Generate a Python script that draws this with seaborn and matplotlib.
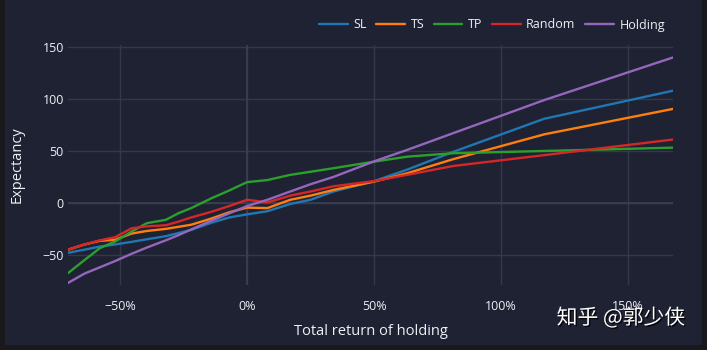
import matplotlib
matplotlib.use("Agg")
import matplotlib.pyplot as plt
import matplotlib.patheffects as pe
from matplotlib.patches import Rectangle
from matplotlib.ticker import FuncFormatter
import numpy as np
import pandas as pd
import seaborn as sns

# Total return of holding (%) at each sample point
total_return = [-70.5, -64, -58, -52, -45.5, -39.5, -32, -27, -22, -14, -7, 0,
                8, 17, 25, 34, 50, 63, 81, 117, 167.7]

sl = [-48, -45, -42, -40, -37.5, -35, -32, -29, -26, -19, -14, -11,
      -8, -1, 3, 11, 21, 32, 49, 81, 108]
ts = [-45, -40, -36.5, -35.5, -29.5, -27, -25, -23, -21, -15, -9, -4.5,
      -5, 3, 7, 12.5, 20.5, 28.5, 42, 66, 90.5]
tp = [-67.6, -55, -43.6, -37.2, -27.6, -19.5, -16.3, -9.9, -5, 4.5, 12, 20,
      22, 27, 30, 33.4, 39.7, 44.5, 47.8, 50, 53.2]
random_ = [-45, -40, -36, -33, -24.5, -22.5, -21.5, -18, -14, -8.5, -3, 3,
           0.5, 7, 11, 16, 21, 27, 35.5, 46, 61]
holding = [-77, -68, -62, -56, -49, -43, -36, -31, -25.5, -17, -10, -3,
           3, 11, 18, 25, 40, 51, 67, 99, 140]

series_names = ["SL", "TS", "TP", "Random", "Holding"]
series_values = [sl, ts, tp, random_, holding]
colors = ["#1f77b4", "#ff7f0e", "#2ca02c", "#d62728", "#9467bd"]

x_ticks = [-50, 0, 50, 100, 150]
y_ticks = [-50, 0, 50, 100, 150]

df = pd.concat(
    [pd.DataFrame({"ret": total_return, "exp": vals, "strategy": name})
     for name, vals in zip(series_names, series_values)],
    ignore_index=True,
)

BG = "#1f2233"
EDGE = "#19191d"
GRID = "#33384b"
ZERO = "#3a3f53"
FG = "#eef0f6"

sns.set_theme(style="dark")
plt.rcParams["font.family"] = ["Open Sans", "DejaVu Sans"]

fig = plt.figure(figsize=(7.07, 3.5), dpi=100)
fig.patch.set_facecolor(EDGE)
fig.add_artist(Rectangle((5 / 707, 5 / 350), 697 / 707, 345 / 350,
                         transform=fig.transFigure, facecolor=BG,
                         edgecolor="none", zorder=0))

ax = fig.add_axes([68 / 707, 1 - 285 / 350, 605 / 707, 240 / 350])
ax.set_facecolor(BG)

ax.set_xlim(-70.5, 167.7)
ax.set_ylim(-79, 152)
ax.set_xticks(x_ticks)
ax.set_yticks(y_ticks)
ax.grid(True, color=GRID, linewidth=1.0)
ax.axvline(0, color=ZERO, linewidth=1.2, zorder=1)
ax.axhline(0, color=ZERO, linewidth=1.2, zorder=1)
ax.set_axisbelow(True)

sns.lineplot(data=df, x="ret", y="exp", hue="strategy",
             hue_order=series_names, palette=colors, linewidth=1.7,
             sort=False, legend=False, ax=ax, zorder=3)

for s in ax.spines.values():
    s.set_visible(False)

ax.xaxis.set_major_formatter(FuncFormatter(lambda v, p: f"{v:.0f}%".replace("-", "\u2212")))
ax.yaxis.set_major_formatter(FuncFormatter(lambda v, p: f"{v:.0f}".replace("-", "\u2212")))
ax.tick_params(axis="both", length=0, colors=FG, labelsize=9)
ax.tick_params(axis="x", pad=11)
ax.tick_params(axis="y", pad=3)

ax.set_xlabel("Total return of holding", color=FG, fontsize=10.5, labelpad=8)
ax.set_ylabel("Expectancy", color=FG, fontsize=10.5, labelpad=13)

handles = [plt.Line2D([], [], color=c, linewidth=1.7) for c in colors]
leg = ax.legend(handles, series_names, ncol=5, loc="center right",
                bbox_to_anchor=(0.995, 1.0 + 20 / 240), frameon=False,
                fontsize=9, handlelength=2.3, handletextpad=0.45,
                columnspacing=0.75, borderaxespad=0)
for t in leg.get_texts():
    t.set_color(FG)

fig.text(621 / 707, 1 - 318 / 350, "知乎 @郭少侠", color="white", fontsize=15,
         family=["Noto Sans CJK SC", "DejaVu Sans"], ha="center", va="center",
         path_effects=[pe.withSimplePatchShadow(offset=(1, -1), shadow_rgbFace="black", alpha=0.8)])

fig.savefig("out.png", dpi=100, facecolor=fig.get_facecolor())
